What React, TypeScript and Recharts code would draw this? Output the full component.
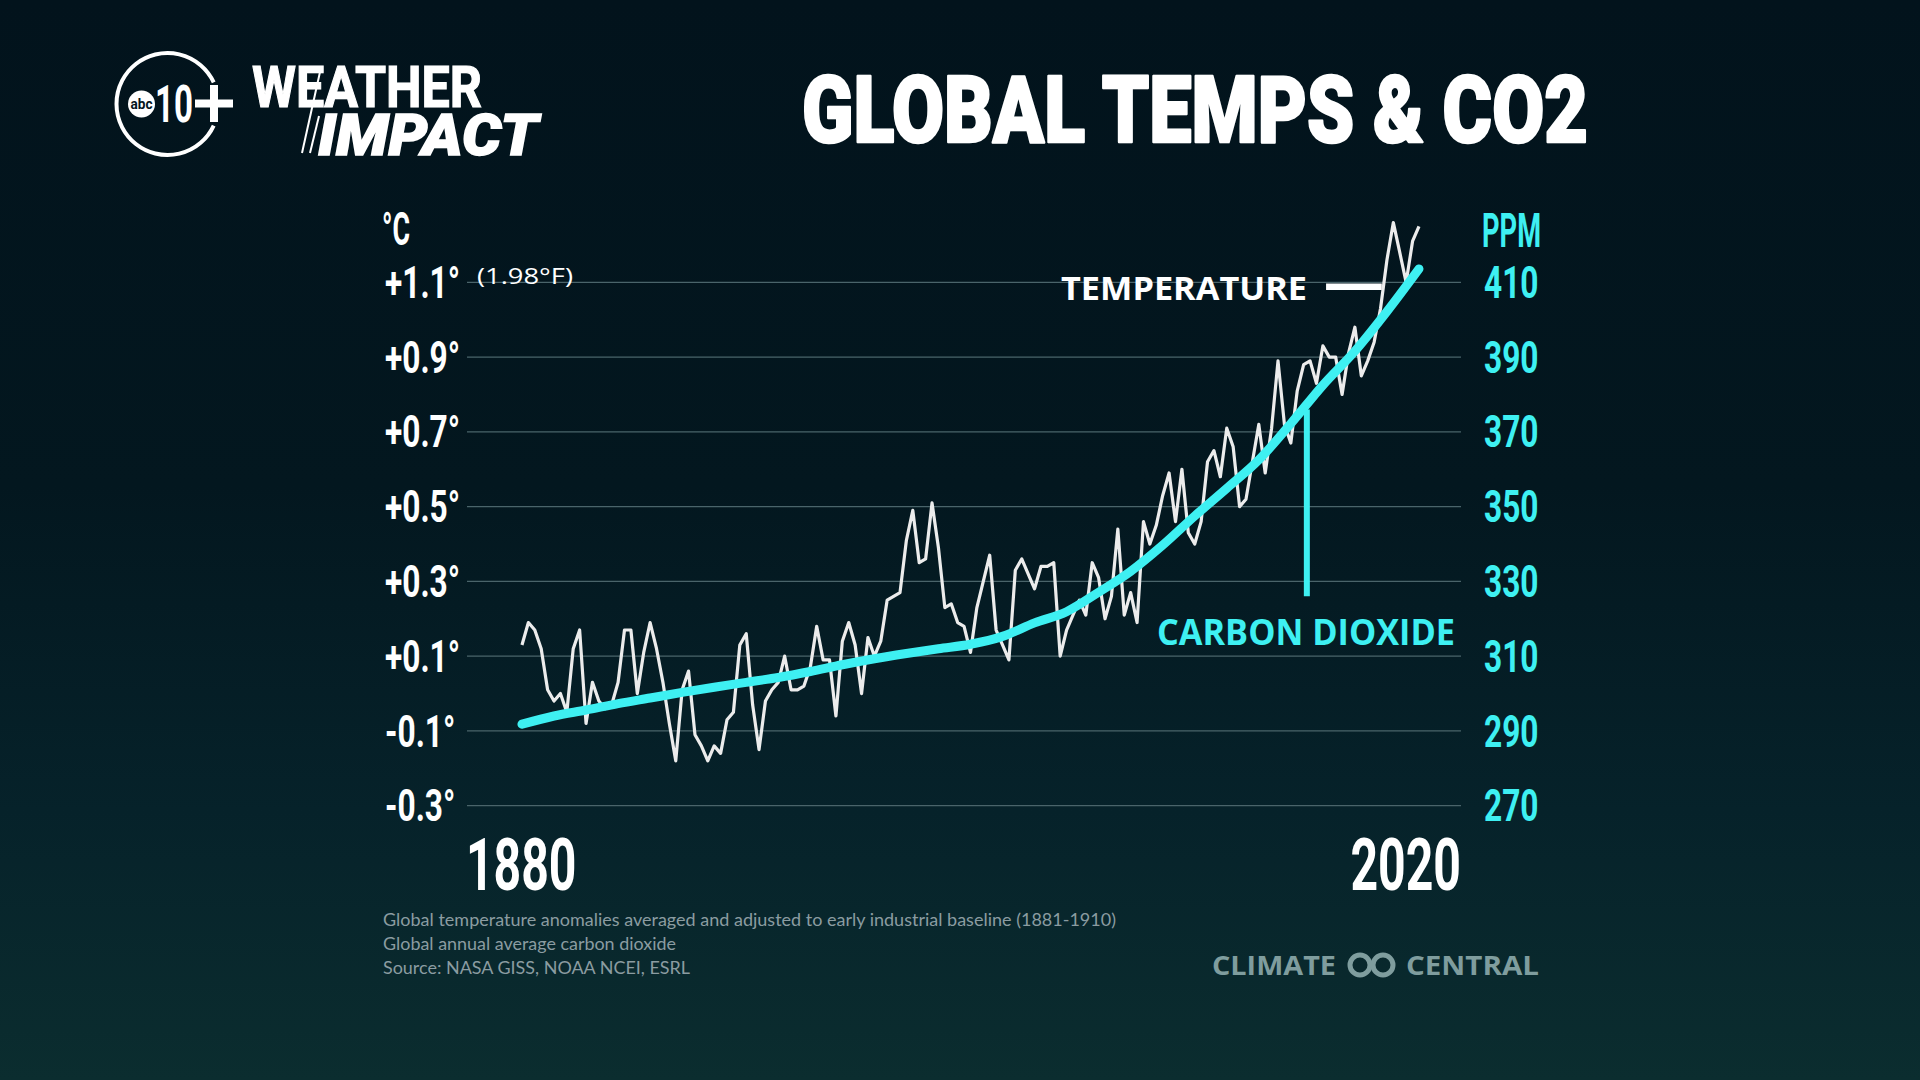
import React from 'react';
import { LineChart, Line, XAxis, YAxis, CartesianGrid, ReferenceLine } from 'recharts';

// Global temperature anomaly (°C vs 1881-1910), one value per year from 1880
const FIRST_YEAR = 1880;
const tempAnomaly = [
  0.13, 0.19, 0.17, 0.12, 0.01, -0.02, 0.0, -0.05, 0.12, 0.17,
  -0.08, 0.03, -0.02, -0.04, -0.03, 0.03, 0.17, 0.17, 0.0, 0.11,
  0.19, 0.12, 0.03, -0.08, -0.18, 0.01, 0.06, -0.11, -0.14, -0.18,
  -0.14, -0.16, -0.07, -0.05, 0.13, 0.16, -0.03, -0.15, -0.02, 0.01,
  0.03, 0.1, 0.01, 0.01, 0.02, 0.07, 0.18, 0.09, 0.09, -0.06,
  0.14, 0.19, 0.13, 0.0, 0.15, 0.1, 0.14, 0.25, 0.26, 0.27,
  0.41, 0.49, 0.35, 0.36, 0.51, 0.39, 0.23, 0.24, 0.19, 0.18,
  0.11, 0.23, 0.3, 0.37, 0.17, 0.13, 0.09, 0.33, 0.36, 0.32,
  0.28, 0.34, 0.34, 0.35, 0.1, 0.17, 0.21, 0.25, 0.21, 0.35,
  0.31, 0.2, 0.26, 0.44, 0.21, 0.27, 0.19, 0.46, 0.4, 0.45,
  0.53, 0.59, 0.46, 0.6, 0.43, 0.4, 0.46, 0.62, 0.65, 0.58,
  0.71, 0.66, 0.5, 0.52, 0.62, 0.72, 0.59, 0.71, 0.89, 0.72,
  0.67, 0.81, 0.88, 0.89, 0.83, 0.93, 0.9, 0.9, 0.8, 0.91,
  0.98, 0.85, 0.89, 0.94, 1.03, 1.16, 1.26, 1.18, 1.1, 1.21,
  1.25,
];
const tempYears = tempAnomaly.map((_, i) => FIRST_YEAR + i);

// Global annual average CO2 (ppm)
const co2Years = [
  1880, 1885, 1890, 1895, 1900, 1905, 1910, 1915, 1920, 1925,
  1930, 1935, 1940, 1945, 1950, 1955, 1960, 1965, 1970, 1975,
  1980, 1985, 1990, 1995, 2000, 2005, 2010, 2015, 2020,
];
const co2Ppm = [
  291.8, 294.0, 295.6, 297.3, 298.8, 300.3, 301.7, 303.0, 304.3, 305.9,
  307.7, 309.3, 310.7, 312.0, 313.2, 315.3, 318.9, 321.9, 327.1, 332.7,
  339.7, 347.5, 354.9, 362.5, 372.2, 382.5, 391.6, 402.2, 413.6,
];

const tempTicks = [-0.3, -0.1, 0.1, 0.3, 0.5, 0.7, 0.9, 1.1];
const co2Ticks = [270, 290, 310, 330, 350, 370, 390, 410];
const yearTicks = [1880, 2020];

const footnotes = [
  'Global temperature anomalies averaged and adjusted to early industrial baseline (1881-1910)',
  'Global annual average carbon dioxide',
  'Source: NASA GISS, NOAA NCEI, ESRL',
];

const tempData = tempYears.map((year, i) => ({ year, temp: tempAnomaly[i] }));
const co2Data = co2Years.map((year, i) => ({ year, ppm: co2Ppm[i] }));

const CYAN = '#3ef0f2';
const BOLD = 'Roboto, "Liberation Sans", Arial, sans-serif';
const SANS = '"Open Sans", "DejaVu Sans", sans-serif';
const FOOT = 'Lato, "Open Sans", sans-serif';

type TickProps = { x?: number; y?: number; index?: number; payload?: { value: number } };

const fmtTemp = (v: number) => `${v > 0 ? '+' : '-'}${Math.abs(v).toFixed(1)}°`;

function TempTick({ y = 0, payload }: TickProps) {
  return (
    <g transform={`translate(385, ${y + 15.6}) scale(0.72, 1)`}>
      <text fill="#fff" fontFamily={BOLD} fontWeight={700} fontSize={44}>
        {fmtTemp(payload?.value ?? 0)}
      </text>
    </g>
  );
}

function Co2Tick({ y = 0, payload }: TickProps) {
  return (
    <g transform={`translate(1484, ${y + 15.6}) scale(0.72, 1)`}>
      <text fill={CYAN} fontFamily={BOLD} fontWeight={700} fontSize={44}>
        {payload?.value}
      </text>
    </g>
  );
}

function YearTick({ x = 0, index = 0, payload }: TickProps) {
  const first = index === 0;
  return (
    <g transform={`translate(${first ? x - 56 : x + 42}, 890) scale(0.66, 1)`}>
      <text
        fill="#fff"
        fontFamily={BOLD}
        fontWeight={700}
        fontSize={73}
        textAnchor={first ? 'start' : 'end'}
      >
        {payload?.value}
      </text>
    </g>
  );
}

function Header() {
  // abc10+ badge, Weather Impact wordmark and the title
  const cx = 167.5;
  const cy = 104;
  const r = 51;
  const a = (25 * Math.PI) / 180;
  const arc = `M ${cx + r * Math.cos(a)} ${cy + r * Math.sin(a)} A ${r} ${r} 0 1 1 ${cx + r * Math.cos(a)} ${cy - r * Math.sin(a)}`;
  return (
    <g>
      <path d={arc} fill="none" stroke="#fff" strokeWidth={4} />
      <circle cx={141.5} cy={104} r={13.5} fill="#fff" />
      <text x={141.5} y={108.5} textAnchor="middle" fill="#04151d" fontFamily={BOLD} fontWeight={700} fontSize={14} textLength={22} lengthAdjust="spacingAndGlyphs">abc</text>
      <text x={155} y={122} fill="#fff" fontFamily={BOLD} fontWeight={700} fontSize={51} textLength={38} lengthAdjust="spacingAndGlyphs">10</text>
      <rect x={195} y={99.5} width={38} height={8} fill="#fff" />
      <rect x={210} y={85} width={8} height={37} fill="#fff" />

      <text x={252} y={107} fill="#fff" stroke="#fff" strokeWidth={1.2} fontFamily={BOLD} fontWeight={700} fontSize={58} textLength={230} lengthAdjust="spacingAndGlyphs">WEATHER</text>
      <line x1={320} y1={72} x2={302} y2={153} stroke="#fff" strokeWidth={2} />
      <line x1={319} y1={116} x2={310} y2={153} stroke="#fff" strokeWidth={2} />
      <g transform="translate(318, 155)">
        <text fill="#fff" stroke="#fff" strokeWidth={1.5} fontFamily={BOLD} fontWeight={900} fontStyle="italic" fontSize={58} textLength={220} lengthAdjust="spacingAndGlyphs">IMPACT</text>
      </g>

      <text x={802} y={142} fill="#fff" stroke="#fff" strokeWidth={2.5} strokeLinejoin="round" fontFamily={BOLD} fontWeight={900} fontSize={92} textLength={786} lengthAdjust="spacingAndGlyphs">GLOBAL TEMPS &amp; CO2</text>
    </g>
  );
}

function Annotations() {
  return (
    <g>
      <text x={382} y={245} fill="#fff" fontFamily={BOLD} fontWeight={700} fontSize={46} textLength={28} lengthAdjust="spacingAndGlyphs">°C</text>
      <text x={1482} y={247} fill={CYAN} fontFamily={BOLD} fontWeight={700} fontSize={48} textLength={59} lengthAdjust="spacingAndGlyphs">PPM</text>
      <text x={477} y={284} fill="#fff" fontFamily={SANS} fontSize={21} textLength={96} lengthAdjust="spacingAndGlyphs">(1.98°F)</text>
      <text x={1061} y={300} fill="#fff" fontFamily={SANS} fontWeight={700} fontSize={32} textLength={246} lengthAdjust="spacingAndGlyphs">TEMPERATURE</text>
      <text x={1157} y={645} fill={CYAN} fontFamily={SANS} fontWeight={700} fontSize={35} textLength={298} lengthAdjust="spacingAndGlyphs">CARBON DIOXIDE</text>
    </g>
  );
}

function Footer() {
  const grey = '#8b9ca1';
  const teal = '#7f9d9e';
  return (
    <g>
      {footnotes.map((line, i) => (
        <text
          key={line}
          x={383}
          y={926 + i * 23.8}
          fill={grey}
          fontFamily={FOOT}
          fontSize={17.6}
          textLength={[733, 293, 307][i]}
          lengthAdjust="spacingAndGlyphs"
        >
          {line}
        </text>
      ))}
      <text x={1212} y={975} fill={teal} fontFamily={SANS} fontWeight={700} fontSize={26} textLength={124} lengthAdjust="spacingAndGlyphs">CLIMATE</text>
      <circle cx={1360} cy={965} r={10} fill="none" stroke={teal} strokeWidth={5} />
      <circle cx={1383} cy={965} r={10} fill="none" stroke={teal} strokeWidth={5} />
      <text x={1406} y={975} fill={teal} fontFamily={SANS} fontWeight={700} fontSize={26} textLength={133} lengthAdjust="spacingAndGlyphs">CENTRAL</text>
    </g>
  );
}

export default function App() {
  return (
    <div
      style={{
        position: 'absolute',
        left: 0,
        top: 0,
        width: 1920,
        height: 1080,
        overflow: 'hidden',
        background: 'linear-gradient(180deg, #02131c 0%, #03171f 45%, #06222a 75%, #0b2d2f 100%)',
      }}
    >
      <LineChart
        width={1920}
        height={1080}
        margin={{ top: 207.6, right: 359, bottom: 184.3, left: 385 }}
      >
        <CartesianGrid
          yAxisId="temp"
          vertical={false}
          horizontalValues={tempTicks}
          stroke="#4a646a"
          strokeWidth={1.2}
        />
        <XAxis
          dataKey="year"
          type="number"
          domain={[1871.42, 2026.56]}
          ticks={yearTicks}
          interval={0}
          axisLine={false}
          tickLine={false}
          height={90}
          tick={(p: TickProps) => <YearTick {...p} />}
        />
        <YAxis
          yAxisId="temp"
          orientation="left"
          width={82}
          domain={[-0.3, 1.3]}
          ticks={tempTicks}
          interval={0}
          axisLine={false}
          tickLine={false}
          tick={(p: TickProps) => <TempTick {...p} />}
        />
        <YAxis
          yAxisId="co2"
          orientation="right"
          width={100}
          domain={[270, 430]}
          ticks={co2Ticks}
          interval={0}
          axisLine={false}
          tickLine={false}
          tick={(p: TickProps) => <Co2Tick {...p} />}
        />
        <ReferenceLine
          yAxisId="temp"
          segment={[{ x: 2005.5, y: 1.088 }, { x: 2014.2, y: 1.088 }]}
          stroke="#fff"
          strokeWidth={6.5}
        />
        <ReferenceLine
          yAxisId="co2"
          segment={[{ x: 2002.5, y: 376 }, { x: 2002.5, y: 326 }]}
          stroke={CYAN}
          strokeWidth={6}
        />
        <Line
          yAxisId="temp"
          data={tempData}
          dataKey="temp"
          type="linear"
          stroke="#ececec"
          strokeWidth={3.2}
          strokeLinejoin="round"
          dot={false}
          activeDot={false}
          isAnimationActive={false}
        />
        <Line
          yAxisId="co2"
          data={co2Data}
          dataKey="ppm"
          type="monotone"
          stroke={CYAN}
          strokeWidth={9}
          strokeLinecap="round"
          strokeLinejoin="round"
          dot={false}
          activeDot={false}
          isAnimationActive={false}
        />
      </LineChart>
      <svg
        width={1920}
        height={1080}
        style={{ position: 'absolute', left: 0, top: 0, pointerEvents: 'none' }}
      >
        <Header />
        <Annotations />
        <Footer />
      </svg>
    </div>
  );
}
